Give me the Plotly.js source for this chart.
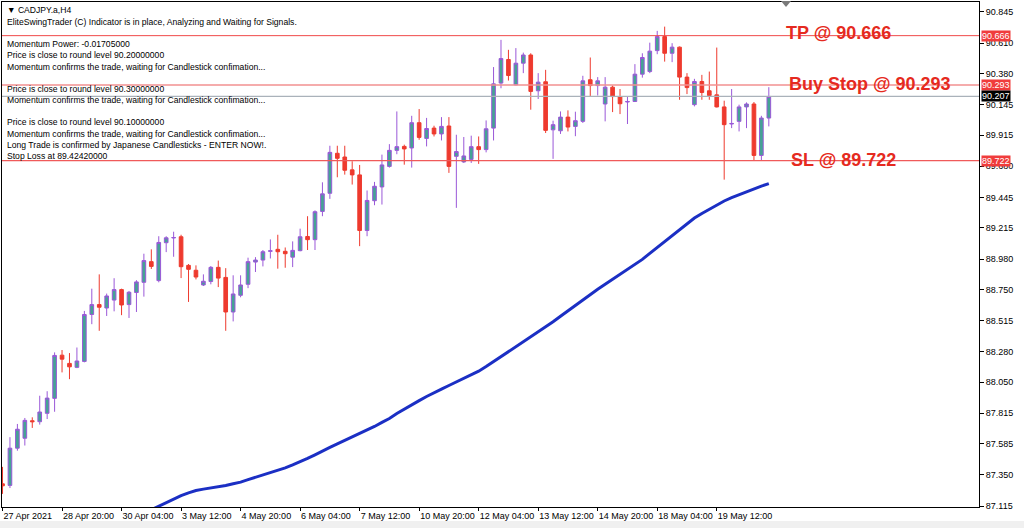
<!DOCTYPE html>
<html><head><meta charset="utf-8">
<script src="https://cdn.plot.ly/plotly-3.0.1.min.js"></script>
<style>html,body{margin:0;padding:0;background:#fff;}#chart{width:1024px;height:528px;}</style>
</head><body><div id="chart"></div>
<script>
const openP = [87.283,87.271,87.552,87.627,87.759,87.752,87.815,87.928,88.254,88.192,
88.162,88.207,88.561,88.636,88.610,88.670,88.749,88.636,88.727,88.804,
88.960,88.817,89.103,89.139,89.148,88.932,88.895,88.784,88.810,88.917,
88.841,88.580,88.706,88.789,88.957,88.972,89.038,89.053,89.038,88.994,
89.043,89.150,89.126,89.339,89.476,89.778,89.750,89.653,89.615,89.195,
89.420,89.524,89.679,89.800,89.830,89.818,90.009,89.890,89.968,89.924,
89.984,89.755,89.713,89.732,89.828,89.806,89.968,90.308,90.486,90.295,
90.458,90.520,90.250,90.318,89.955,89.948,90.051,89.981,90.019,90.333,
90.289,90.150,90.277,90.206,90.165,90.169,90.375,90.395,90.553,90.659,
90.533,90.579,90.353,90.145,90.320,90.250,90.219,90.128,89.999,90.019,
90.128,90.150,89.762,90.044];
const highP = [87.411,87.635,87.735,87.780,87.785,87.948,87.982,88.275,88.293,88.270,
88.312,88.588,88.756,88.864,88.719,88.835,88.756,88.739,88.820,89.020,
89.053,89.152,89.152,89.186,89.163,88.942,88.932,88.864,88.927,88.968,
88.911,88.857,88.857,88.990,88.994,89.048,89.128,89.163,89.067,89.113,
89.209,89.303,89.347,89.559,89.835,89.835,89.835,89.718,89.690,89.497,
89.562,89.768,89.847,90.094,89.843,90.061,90.112,90.045,89.986,90.051,
90.051,89.918,89.901,89.911,89.905,90.026,90.429,90.634,90.559,90.572,
90.538,90.533,90.383,90.408,90.024,90.094,90.102,90.092,90.363,90.501,
90.353,90.353,90.289,90.263,90.206,90.451,90.533,90.613,90.702,90.734,
90.609,90.584,90.383,90.340,90.370,90.395,90.576,90.175,90.263,90.145,
90.162,90.165,90.061,90.277];
const lowP = [87.207,87.251,87.533,87.572,87.705,87.730,87.772,87.827,88.124,88.073,
88.156,88.200,88.488,88.438,88.550,88.585,88.556,88.535,88.580,88.696,
88.905,88.804,89.032,88.997,88.836,88.656,88.826,88.776,88.789,88.768,
88.438,88.509,88.691,88.760,88.882,88.924,88.984,88.907,88.914,88.919,
89.038,89.048,89.048,89.303,89.434,89.597,89.617,89.542,89.077,89.152,
89.386,89.391,89.670,89.771,89.692,89.670,89.880,89.830,89.905,89.875,
89.630,89.366,89.705,89.705,89.698,89.785,89.875,90.269,90.327,90.291,
90.383,90.107,90.188,89.931,89.736,89.924,89.943,89.907,90.007,90.206,
90.214,90.019,90.089,90.074,89.999,90.165,90.349,90.383,90.526,90.470,
90.466,90.182,90.225,90.132,90.182,90.182,90.124,89.579,89.968,89.943,
89.968,89.725,89.725,89.981];
const closeP = [87.268,87.552,87.695,87.762,87.752,87.825,87.930,88.252,88.224,88.166,
88.210,88.561,88.636,88.616,88.701,88.749,88.633,88.729,88.807,88.968,
88.924,89.105,89.140,89.142,88.922,88.902,88.844,88.812,88.917,88.836,
88.580,88.716,88.784,88.960,88.972,89.035,89.042,89.035,89.020,89.045,
89.148,89.126,89.337,89.472,89.785,89.740,89.650,89.615,89.195,89.422,
89.529,89.690,89.800,89.828,89.811,90.009,89.898,89.965,89.924,89.981,
89.679,89.791,89.758,89.828,89.806,89.963,90.302,90.493,90.365,90.458,
90.520,90.245,90.315,89.951,89.994,90.051,89.976,90.024,90.325,90.289,
90.325,90.277,90.206,90.152,90.169,90.375,90.501,90.549,90.659,90.533,
90.579,90.353,90.274,90.320,90.237,90.214,90.128,89.994,90.003,90.128,
90.150,89.762,90.044,90.207];
const maStart = 20;
const maValues = [87.087,87.113,87.143,87.170,87.194,87.215,87.232,87.243,87.251,87.261,
87.270,87.283,87.296,87.315,87.332,87.347,87.365,87.384,87.403,87.426,
87.448,87.475,87.502,87.527,87.558,87.584,87.610,87.637,87.664,87.690,
87.716,87.747,87.776,87.814,87.848,87.882,87.911,87.942,87.972,87.998,
88.025,88.051,88.077,88.104,88.133,88.168,88.205,88.243,88.280,88.318,
88.355,88.390,88.428,88.465,88.506,88.548,88.590,88.631,88.672,88.714,
88.751,88.789,88.826,88.861,88.898,88.936,88.977,89.023,89.067,89.113,
89.158,89.203,89.248,89.289,89.324,89.357,89.387,89.418,89.444,89.467,
89.489,89.512,89.530,89.549];
const timeTickIdx = [0,8,16,24,32,40,48,56,64,72,80,88,96];
const timeTickLabels = ["27 Apr 2021","28 Apr 20:00","30 Apr 04:00","3 May 12:00","4 May 20:00","6 May 04:00","7 May 12:00","10 May 20:00","12 May 04:00","13 May 12:00","14 May 20:00","18 May 04:00","19 May 12:00"];
const priceTicks = [90.845,90.610,90.380,90.145,89.915,89.680,89.445,89.215,88.980,88.750,88.515,88.280,88.050,87.815,87.585,87.350,87.115];
const tpLevel = 90.666, buyStopLevel = 90.293, bidLevel = 90.207, slLevel = 89.722;
const infoLines = [
 ["\u25BC CADJPY.a,H4", 10],
 ["EliteSwingTrader (C) Indicator is in place, Analyzing and Waiting for Signals.", 22.3],
 ["Momentum Power: -0.01705000", 44],
 ["Price is close to round level 90.20000000", 55.3],
 ["Momentum confirms the trade, waiting for Candlestick confimation...", 66.7],
 ["Price is close to round level 90.30000000", 89],
 ["Momentum confirms the trade, waiting for Candlestick confimation...", 100.3],
 ["Price is close to round level 90.10000000", 122.3],
 ["Momentum confirms the trade, waiting for Candlestick confimation...", 134],
 ["Long Trade is confirmed by Japanese Candlesticks - ENTER NOW!.", 145.3],
 ["Stop Loss at 89.42420000", 156]
];

const W = 1024, H = 528, ML = 2, MR = 45, MT = 2, MB = 21;
const PW = W - ML - MR, PH = H - MT - MB;
const px2paperX = p => (p - ML) / PW;
const py2paperY = p => (H - MB - p) / PH;

const idx = openP.map((_, i) => i);
const maX = maValues.map((_, i) => i + maStart);

const traces = [
  {
    type: 'candlestick', x: idx, open: openP, high: highP, low: lowP, close: closeP,
    increasing: {line: {color: '#9a58d8', width: 1}, fillcolor: '#45a394'},
    decreasing: {line: {color: '#ee3a2e', width: 1}, fillcolor: '#ee3a2e'},
    whiskerwidth: 0, hoverinfo: 'skip'
  },
  {
    type: 'scatter', mode: 'lines', x: maX, y: maValues,
    line: {color: '#1b2fc4', width: 3}, hoverinfo: 'skip'
  }
];

const lineShape = (y, color, w) => ({type:'line', xref:'paper', x0:0, x1:1, yref:'y', y0:y, y1:y, line:{color:color, width:w}, layer:'above'});
const shapes = [
  lineShape(tpLevel, '#f04a4a', 1),
  lineShape(buyStopLevel, '#f29090', 1.6),
  lineShape(bidLevel, '#aab2ba', 1.3),
  lineShape(slLevel, '#f05a5a', 1.2),
  {type:'rect', xref:'paper', x0:-0.01, x1:1.06, yref:'paper', ysizemode:'pixel', yanchor:0, y0:-14, y1:-22, fillcolor:'#f0f0f0', line:{width:0}, layer:'below'},
  {type:'path', xref:'paper', xsizemode:'pixel', xanchor:px2paperX(786), yref:'paper', ysizemode:'pixel', yanchor:1, path:'M -5 1 L 5 1 L 0 -5 Z', fillcolor:'#7a7a7a', line:{width:0}}
];

const annotations = [];
infoLines.forEach(([t, py]) => annotations.push({
  xref:'paper', yref:'paper', x:px2paperX(5), y:py2paperY(py), xanchor:'left', yanchor:'middle',
  text:t, showarrow:false, font:{family:'Liberation Sans', size:8.6, color:'#000'}
}));
const bigLabel = (t, y, px, shift) => ({
  xref:'paper', yref:'y', x:px2paperX(px), y:y, yshift:shift, xanchor:'left', yanchor:'middle',
  text:t, showarrow:false, font:{family:'Liberation Sans', size:18, color:'#e52a20', weight:'bold'}
});
annotations.push(bigLabel('<b>TP @ ' + tpLevel.toFixed(3) + '</b>', tpLevel, 784, 3));
annotations.push(bigLabel('<b>Buy Stop @ ' + buyStopLevel.toFixed(3) + '</b>', buyStopLevel, 787, 1.5));
annotations.push(bigLabel('<b>SL @ ' + slLevel.toFixed(3) + '</b>', slLevel, 789, 1));
const tag = (y, bg) => ({
  xref:'paper', yref:'y', x:1, xshift:2, y:y, xanchor:'left', yanchor:'middle',
  text:y.toFixed(3), showarrow:false, bgcolor:bg, borderpad:0,
  font:{family:'Liberation Sans', size:9, color:'#fff'}
});
annotations.push(tag(tpLevel, '#f03c3c'));
annotations.push(tag(buyStopLevel, '#f03c3c'));
annotations.push(tag(bidLevel, '#000000'));
annotations.push(tag(slLevel, '#f03c3c'));

const layout = {
  width: W, height: H,
  margin: {l: ML, r: MR, t: MT, b: MB, pad: 0},
  paper_bgcolor: '#ffffff', plot_bgcolor: '#ffffff',
  showlegend: false,
  xaxis: {
    range: [-0.07, 131.25], rangeslider: {visible: false},
    tickmode: 'array', tickvals: timeTickIdx, ticktext: timeTickLabels,
    ticks: 'outside', ticklen: 3, tickcolor: '#000', tickwidth: 1,
    ticklabelposition: 'outside right', tickangle: 0, automargin: false,
    tickfont: {family: 'Liberation Sans', size: 9, color: '#000'},
    showgrid: false, zeroline: false, showline: true, linecolor: '#000', linewidth: 1, mirror: true,
    fixedrange: true
  },
  yaxis: {
    side: 'right', range: [87.108, 90.920], automargin: false,
    tickmode: 'array', tickvals: priceTicks, ticktext: priceTicks.map(v => v.toFixed(3)),
    ticks: 'outside', ticklen: 4, tickcolor: '#000', tickwidth: 1,
    tickfont: {family: 'Liberation Sans', size: 9, color: '#000'},
    showgrid: false, zeroline: false, showline: true, linecolor: '#000', linewidth: 1, mirror: true,
    fixedrange: true
  },
  shapes: shapes,
  annotations: annotations
};

Plotly.newPlot('chart', traces, layout, {displayModeBar: false, staticPlot: true});
</script>
</body></html>
